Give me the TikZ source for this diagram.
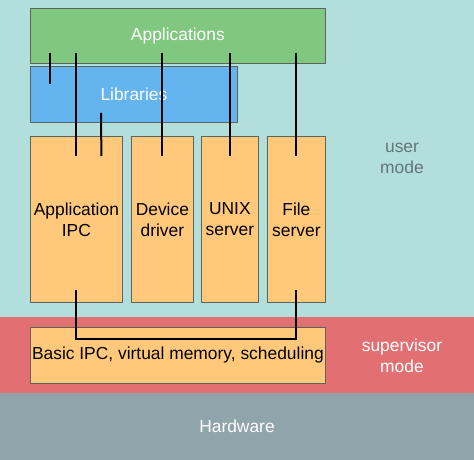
\documentclass[tikz,border=0pt]{standalone}
\usepackage{fontspec}
\setmainfont{Liberation Sans}
\usepackage{tikz}
\usetikzlibrary{calc}
\definecolor{usercol}{RGB}{178,223,219}
\definecolor{supcol}{RGB}{226,112,114}
\definecolor{hwcol}{RGB}{144,164,172}
\definecolor{appcol}{RGB}{128,200,128}
\definecolor{libcol}{RGB}{100,180,240}
\definecolor{srvcol}{RGB}{255,200,122}
\definecolor{edgecol}{RGB}{90,100,90}
\definecolor{usertext}{RGB}{100,118,118}
\def\lbl{\fontsize{17.4}{21}\selectfont}   % label font

\begin{document}
\begin{tikzpicture}[x=1pt, y=-1pt,
        layer/.style={draw=edgecol, line width=0.8pt, anchor=north west, inner sep=0pt, align=center, font=\lbl},
        link/.style={line width=2pt, black}]
            % mode bands
            \useasboundingbox (0,0) rectangle (474,460);
            \fill[usercol] (0,0) rectangle (474,317);
            \fill[supcol] (0,317) rectangle (474,393);
            \fill[hwcol] (0,393) rectangle (474,460);
            \node[font=\lbl, align=center, text=usertext] (user) at (402,158) {user\\mode};
            \node[font=\lbl, align=center, text=white] (sup) at (402,356) {supervisor\\mode};
            \node[font=\lbl, text=white] (hw) at (237,426) {Hardware};
            % user space
            \node[layer, fill=appcol, text=white, minimum width=295pt, minimum height=55pt] (apps) at (30,8) {Applications};
            \node[layer, fill=libcol, text=white, minimum width=207pt, minimum height=56pt] (libs) at (30,66) {Libraries};
            \node[layer, fill=srvcol, minimum width=92pt, minimum height=166pt] (ipc) at (30,136) {Application\\IPC};
            \node[layer, fill=srvcol, minimum width=62pt, minimum height=166pt] (drv) at (131,136) {Device\\driver};
            \node[layer, fill=srvcol, minimum width=57pt, minimum height=166pt] (unix) at (201,136) {UNIX\\server};
            \node[layer, fill=srvcol, minimum width=58pt, minimum height=166pt] (fs) at (267,136) {File\\server};
            % kernel
            \node[layer, fill=srvcol, minimum width=295pt, minimum height=56pt] (kernel) at (30,327) {Basic IPC, virtual memory, scheduling};
            % calls
            \draw[link] ([xshift=20pt, yshift=11pt]apps.south west) -- ([xshift=20pt, yshift=-18pt]libs.north west);
            \draw[link] ([yshift=11pt]apps.south -| ipc) -- ([yshift=-20pt]ipc.north);
            \draw[link] ([xshift=71pt, yshift=10pt]libs.south west) -- ([xshift=25pt, yshift=-20pt]ipc.north);
            \draw[link] ([yshift=11pt]apps.south -| drv) -- ([yshift=-20pt]drv.north);
            \draw[link] ([yshift=11pt]apps.south -| unix) -- ([yshift=-20pt]unix.north);
            \draw[link] ([yshift=11pt]apps.south -| fs) -- ([yshift=-20pt]fs.north);
            \draw[link] ([yshift=13pt]ipc.south) -- ++(0,49) -| ([yshift=13pt]fs.south);
        \end{tikzpicture}
\end{document}
